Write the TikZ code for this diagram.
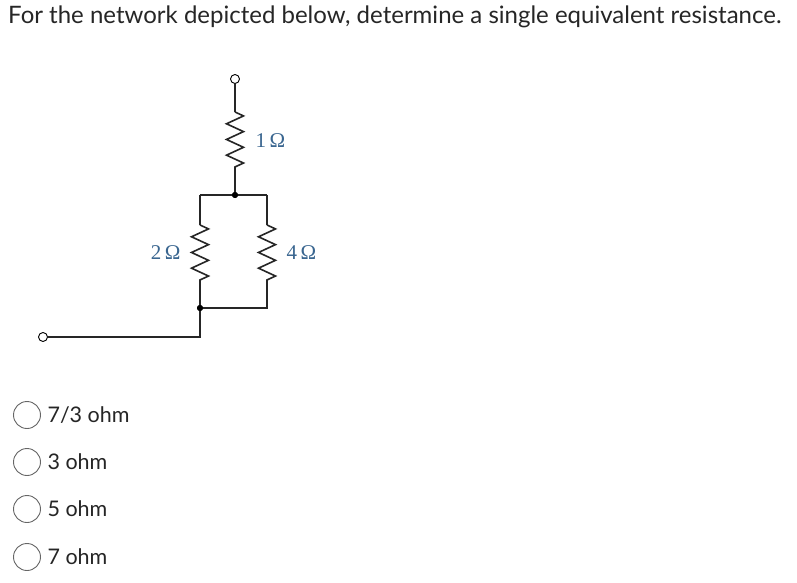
\documentclass[tikz,border=0pt]{standalone}
\usepackage{fontspec}
\setmainfont{Lato}
\newfontfamily\tnr{Liberation Serif}
\usetikzlibrary{decorations.pathmorphing}
\definecolor{lab}{HTML}{3A6690}
\tikzset{x=1pt,y=-1pt,
 wire/.style={line width=1.6pt,color=black!85},
 res/.style={wire,decorate,decoration={zigzag,amplitude=8.5pt,segment length=15.7pt}},
 term/.style={circle,draw,line width=0.9pt,fill=white,inner sep=0pt,minimum size=9pt},
 dot/.style={circle,fill=black,inner sep=0pt,minimum size=6pt},
 rlab/.style={text=lab,font=\tnr\fontsize{21}{21}\selectfont},
 radio/.style={circle,draw=black!60,line width=0.9pt,inner sep=0pt,minimum size=27pt},
 opt/.style={anchor=west,font=\fontsize{21.5}{24}\selectfont,text=black!85}}
\begin{document}
\begin{tikzpicture}
\useasboundingbox[fill=white] (0,0) rectangle (797,583);
\node[anchor=west,inner sep=0pt,font=\fontsize{24}{26}\selectfont,text=black!85] (title) at (8,17) {For the network depicted below, determine a single equivalent resistance.};
\node[term] (tt) at (235,79) {};
\coordinate (r1a) at (235,112);
\coordinate (r1b) at (235,167);
\node[dot] (n1) at (235,195) {};
\coordinate (tl) at (200,195);
\coordinate (tr) at (267,195);
\coordinate (r2a) at (200,225);
\coordinate (r2b) at (200,280);
\coordinate (r4a) at (267,225);
\coordinate (r4b) at (267,280);
\node[dot] (n2) at (200,308) {};
\coordinate (br) at (267,308);
\coordinate (bc) at (200,337);
\node[term] (tb) at (43,337) {};
\draw[wire] (tt) -- (r1a);
\draw[res] (r1a) -- (r1b);
\draw[wire] (r1b) -- (n1);
\draw[wire] (tl) -- (tr);
\draw[wire] (tl) -- (r2a); \draw[res] (r2a) -- (r2b); \draw[wire] (r2b) -- (n2);
\draw[wire] (tr) -- (r4a); \draw[res] (r4a) -- (r4b); \draw[wire] (r4b) -- (br) -- (n2);
\draw[wire] (n2) -- (bc) -- (tb);
\node[dot] at (235,195) {};
\node[dot] at (200,308) {};
\node[rlab,anchor=west] (l1) at (252,141) {1\,Ω};
\node[rlab,anchor=east] (l2) at (184,253) {2\,Ω};
\node[rlab,anchor=west] (l4) at (283,253) {4\,Ω};
\foreach \y/\t [count=\i] in {415/7\slash 3 ohm,462/3 ohm,509/5 ohm,557/7 ohm}{
 \node[radio] (c\i) at (27,\y) {};
 \node[opt] (o\i) at (44,\y) {\t};
}
\end{tikzpicture}
\end{document}
